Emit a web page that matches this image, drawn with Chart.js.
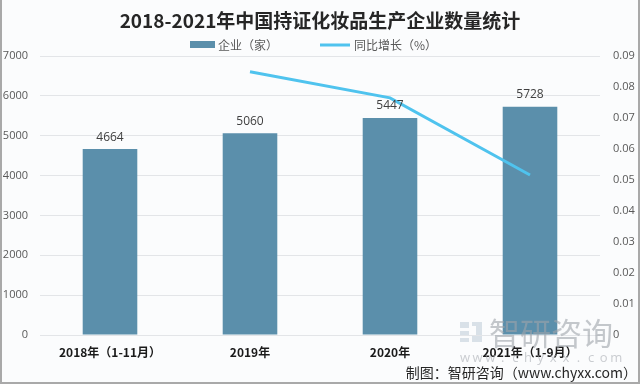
<!DOCTYPE html>
<html>
<head>
<meta charset="utf-8">
<script src="https://cdn.jsdelivr.net/npm/chart.js@4/dist/chart.umd.min.js"></script>
<style>
  html, body { margin: 0; padding: 0; background: #fbfcfd; }
  #wrap { width: 640px; height: 384px; position: relative; }
</style>
</head>
<body>
<div id="wrap"><canvas id="myChart" width="640" height="384"></canvas></div>
<script>
const years = ['2018年（1-11月）', '2019年', '2020年', '2021年（1-9月）'];
const companies = [4664, 5060, 5447, 5728];
const growth = [null, 0.0849, 0.0765, 0.0516];
const leftTicks = [0, 1000, 2000, 3000, 4000, 5000, 6000, 7000];
const rightTicks = [0, 0.01, 0.02, 0.03, 0.04, 0.05, 0.06, 0.07, 0.08, 0.09];

const titleText = '2018-2021年中国持证化妆品生产企业数量统计';
const barName = '企业（家）';
const lineName = '同比增长（%）';
const sourceText = '制图：智研咨询（www.chyxx.com）';

const barColor = '#5b8fab';
const lineColor = '#4fc3ee';
const cjk = '"Noto Sans CJK SC", "Noto Sans", sans-serif';

// titulo, leyenda, marca de agua y fuente dibujados a mano
const decor = {
    id: 'decor',
    beforeDraw(chart) {
        const ctx = chart.ctx;
        ctx.save();
        ctx.fillStyle = '#fbfcfd';
        ctx.fillRect(0, 0, chart.width, chart.height);
        ctx.restore();
    },
    afterDatasetsDraw(chart) {
        const ctx = chart.ctx;
        const meta = chart.getDatasetMeta(0);
        ctx.save();
        ctx.font = '12px "Open Sans", sans-serif';
        ctx.fillStyle = '#404040';
        ctx.textAlign = 'center';
        ctx.textBaseline = 'bottom';
        meta.data.forEach((bar, i) => {
            ctx.fillText(companies[i], bar.x, bar.y - 6);
        });

        // marca de agua (semi transparente, encima de las barras)
        ctx.textAlign = 'left';
        ctx.textBaseline = 'middle';
        ctx.globalAlpha = 0.6;
        ctx.fillStyle = '#c3cedb';
        ctx.fillRect(460, 322, 9, 6);
        ctx.fillRect(460, 331, 9, 4);
        ctx.fillRect(460, 338, 9, 4);
        ctx.fillRect(472, 322, 10, 4);
        ctx.fillRect(476, 326, 6, 9);
        ctx.fillRect(472, 336, 10, 6);
        ctx.font = '31px ' + cjk;
        ctx.fillStyle = '#9ea3aa';
        ctx.fillText('智研咨询', 489, 333);
        ctx.font = '13px "Open Sans", sans-serif';
        ctx.fillStyle = '#a8acb2';
        ctx.textAlign = 'center';
        'www.chyxx.com'.split('').forEach((c, i) => {
            ctx.fillText(c, 465 + i * 12.6, 358);
        });
        ctx.globalAlpha = 1;
        ctx.restore();
    },
    afterDraw(chart) {
        const ctx = chart.ctx;
        ctx.save();
        // titulo
        ctx.font = 'bold 19px ' + cjk;
        ctx.fillStyle = '#262626';
        ctx.textAlign = 'center';
        ctx.textBaseline = 'middle';
        ctx.fillText(titleText, 320, 21);

        // leyenda
        ctx.font = '12px ' + cjk;
        ctx.textAlign = 'left';
        ctx.fillStyle = barColor;
        ctx.fillRect(190, 41, 25, 7);
        ctx.fillStyle = '#595959';
        ctx.fillText(barName, 218, 45);
        ctx.strokeStyle = lineColor;
        ctx.lineWidth = 3;
        ctx.beginPath();
        ctx.moveTo(320, 45);
        ctx.lineTo(350, 45);
        ctx.stroke();
        ctx.fillText(lineName, 354, 45);

        // fuente
        ctx.font = '14px ' + cjk;
        ctx.fillStyle = '#262626';
        ctx.textAlign = 'right';
        ctx.fillText(sourceText, 637, 373);

        // borde gris
        ctx.strokeStyle = '#a9a9a9';
        ctx.lineWidth = 2;
        ctx.beginPath();
        ctx.moveTo(1, 0);
        ctx.lineTo(1, 383);
        ctx.lineTo(639, 383);
        ctx.lineTo(639, 0);
        ctx.stroke();
        ctx.restore();
    }
};

const chart = document.getElementById('myChart');
new Chart(chart, {
    type: 'bar',
    data: {
        labels: years,
        datasets: [
            {
                type: 'bar',
                label: barName,
                data: companies,
                backgroundColor: barColor,
                yAxisID: 'y',
                categoryPercentage: 1,
                barPercentage: 0.39,
                order: 1
            },
            {
                type: 'line',
                label: lineName,
                data: growth,
                borderColor: lineColor,
                borderWidth: 3,
                pointRadius: 0,
                tension: 0,
                yAxisID: 'y1',
                order: 0
            }
        ]
    },
    options: {
        responsive: false,
        animation: false,
        layout: { padding: { top: 56, left: 0, right: 0, bottom: 0 } },
        plugins: {
            legend: { display: false },
            title: { display: false },
            tooltip: { enabled: false }
        },
        scales: {
            x: {
                grid: { display: false, drawTicks: false },
                border: { display: false },
                ticks: {
                    padding: 10,
                    color: '#1a1a1a',
                    font: { family: cjk, size: 12, weight: 'bold' },
                    maxRotation: 0,
                    autoSkip: false
                },
                afterFit(scale) { scale.height = 49; }
            },
            y: {
                position: 'left',
                min: 0,
                max: 7000,
                afterBuildTicks(scale) { scale.ticks = leftTicks.map(v => ({ value: v })); },
                grid: { color: '#e3e5e8', drawTicks: false },
                border: { display: false },
                ticks: {
                    padding: 12,
                    color: '#595959',
                    font: { family: '"Open Sans", sans-serif', size: 11 },
                    callback: v => String(v)
                },
                afterFit(scale) { scale.width = 40; }
            },
            y1: {
                position: 'right',
                min: 0,
                max: 0.09,
                afterBuildTicks(scale) { scale.ticks = rightTicks.map(v => ({ value: v })); },
                grid: { display: false, drawTicks: false },
                border: { display: false },
                ticks: {
                    padding: 13,
                    color: '#595959',
                    font: { family: '"Open Sans", sans-serif', size: 11 },
                    callback: v => v === 0 ? '0' : v.toFixed(2)
                },
                afterFit(scale) { scale.width = 40; }
            }
        }
    },
    plugins: [decor]
});
</script>
</body>
</html>
